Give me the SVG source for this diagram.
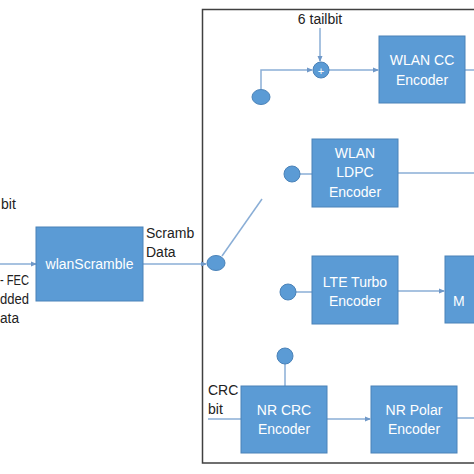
<svg xmlns="http://www.w3.org/2000/svg" width="474" height="474" viewBox="0 0 474 474">
<defs>
<marker id="ah" markerWidth="6" markerHeight="6" refX="5" refY="3" orient="auto" markerUnits="userSpaceOnUse">
<path d="M0,0.5 L6,3 L0,5.5 Z" fill="#6f98c8"/>
</marker>
</defs>
<style>
.box{fill:#5b9bd5;stroke:#4a82b8;stroke-width:1}
.dot{fill:#5b9bd5;stroke:#4a82b8;stroke-width:1}
.ln{stroke:#8aaed6;stroke-width:1.5;fill:none}
.lna{stroke:#8aaed6;stroke-width:1.5;fill:none;marker-end:url(#ah)}
.bt{font-family:"Liberation Sans",Arial,sans-serif;font-size:14px;fill:#ffffff;text-anchor:middle}
.lt{font-family:"Liberation Sans",Arial,sans-serif;font-size:14px;fill:#222222}
</style>
<rect width="474" height="474" fill="#ffffff"/>
<g id="frame"><path d="M474,9.5 H202.5 V463 H474" fill="none" stroke="#404040" stroke-width="1.5"/></g>
<g id="connectors">
<line class="lna" x1="0" y1="264" x2="36" y2="264"/>
<line class="lna" x1="143" y1="264" x2="206" y2="264"/>
<line class="ln" x1="222" y1="256" x2="262" y2="199"/>
<line class="lna" x1="320" y1="28" x2="320" y2="61"/>
<polyline class="lna" points="261,89 261,70 312,70"/>
<line class="lna" x1="329" y1="70" x2="378" y2="70"/>
<line class="ln" x1="465" y1="70" x2="474" y2="70"/>
<line class="ln" x1="300" y1="174" x2="312" y2="174"/>
<line class="ln" x1="398" y1="173" x2="474" y2="173"/>
<line class="ln" x1="296" y1="292" x2="312" y2="292"/>
<line class="lna" x1="398" y1="291" x2="444" y2="291"/>
<line class="ln" x1="285" y1="364" x2="285" y2="386"/>
<line class="ln" x1="208" y1="419" x2="241" y2="419"/>
<line class="lna" x1="327" y1="419" x2="370" y2="419"/>
<line class="ln" x1="457" y1="418" x2="474" y2="418"/>
</g>
<g id="labels">
<text class="lt" x="1" y="209">bit</text>
<text class="lt" x="0" y="285" textLength="29" lengthAdjust="spacingAndGlyphs">- FEC</text>
<text class="lt" x="0" y="304" textLength="29" lengthAdjust="spacingAndGlyphs">dded</text>
<text class="lt" x="0" y="323" textLength="19" lengthAdjust="spacingAndGlyphs">ata</text>
<text class="lt" x="146" y="238">Scramb</text>
<text class="lt" x="146" y="257">Data</text>
<text class="lt" x="320" y="24" text-anchor="middle">6 tailbit</text>
<text class="lt" x="208" y="395">CRC</text>
<text class="lt" x="208" y="414">bit</text>
</g>
<g id="wlanScramble"><rect class="box" x="36" y="227" width="107" height="74"/><text class="bt" x="89.5" y="269">wlanScramble</text></g>
<g id="switchDot"><ellipse class="dot" cx="216" cy="263" rx="9" ry="7.5"/></g>
<g id="ccDot"><ellipse class="dot" cx="261" cy="97" rx="9" ry="7.5"/></g>
<g id="plus"><circle class="dot" cx="321" cy="70" r="8"/><text class="bt" x="321" y="74.5" style="font-size:11px">+</text></g>
<g id="wlanCC"><rect class="box" x="379" y="36" width="86" height="67"/><text class="bt" x="422" y="65">WLAN CC</text><text class="bt" x="422" y="85">Encoder</text></g>
<g id="ldpcDot"><circle class="dot" cx="292" cy="174" r="8"/></g>
<g id="wlanLDPC"><rect class="box" x="312" y="139" width="86" height="68"/><text class="bt" x="355" y="158">WLAN</text><text class="bt" x="355" y="177">LDPC</text><text class="bt" x="355" y="197">Encoder</text></g>
<g id="turboDot"><circle class="dot" cx="288" cy="292" r="8"/></g>
<g id="lteTurbo"><rect class="box" x="312" y="256" width="86" height="68"/><text class="bt" x="355" y="287">LTE Turbo</text><text class="bt" x="355" y="306">Encoder</text></g>
<g id="matching"><rect class="box" x="445" y="256" width="40" height="67"/><text class="lt" x="453" y="306" style="fill:#ffffff">M</text></g>
<g id="crcDot"><circle class="dot" cx="285" cy="356" r="8"/></g>
<g id="nrCRC"><rect class="box" x="241" y="386" width="86" height="67"/><text class="bt" x="284" y="415">NR CRC</text><text class="bt" x="284" y="434">Encoder</text></g>
<g id="nrPolar"><rect class="box" x="371" y="386" width="86" height="67"/><text class="bt" x="414" y="415">NR Polar</text><text class="bt" x="414" y="434">Encoder</text></g>
</svg>
